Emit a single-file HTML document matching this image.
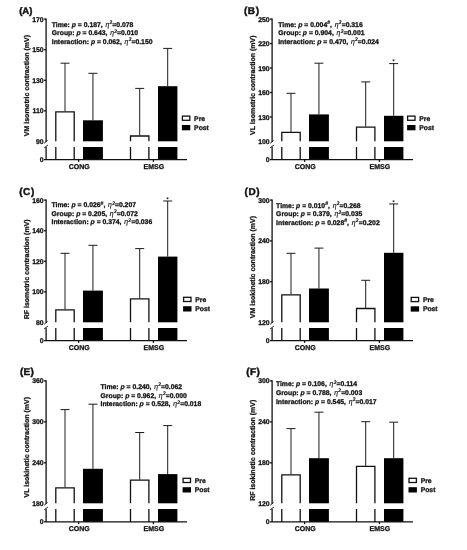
<!DOCTYPE html>
<html lang="en"><head><meta charset="utf-8"><title>Figure</title>
<style>
html,body{margin:0;padding:0;background:#fff}
body{width:467px;height:550px;overflow:hidden}
svg{display:block}
text{font-family:'Liberation Sans',sans-serif;font-weight:bold;fill:#111;stroke:#111;stroke-width:0.28;text-rendering:geometricPrecision}
.e{font-family:'Liberation Serif','DejaVu Serif',serif;font-weight:normal;font-style:italic;stroke-width:0.12}
.e2{font-family:'Liberation Serif','DejaVu Serif',serif;font-weight:bold;font-style:italic;stroke-width:0.2}
.t{font-size:6.9px}
.x{font-size:7px}
.p{font-size:9.5px;stroke-width:0.45}
.s{font-size:6.83px}
.y{font-size:7px}
.l{font-size:6.8px}
.i{font-style:italic}
.ln{stroke:#111;stroke-width:1.3;fill:none}
.th{stroke:#1c1c1c;stroke-width:1;fill:none}
</style></head><body>
<svg width="467" height="550" viewBox="0 0 467 550">
<rect width="467" height="550" fill="#fff"/>
<g transform="translate(0,0)">
<text class="p" style="font-size:9.5px;letter-spacing:0px" x="19.2" y="14.1">(A)</text>
<path class="th" d="M65 111.3 V63.2 M60.5 63.2 H69.5"/>
<path class="ln" d="M55.8 141.3 V111.8 H74.2 V141.3"/>
<path class="ln" d="M55.8 147 V159.6 M74.2 147 V159.6"/>
<path class="th" d="M92.95 120.3 V73.3 M88.45 73.3 H97.45"/>
<rect x="83" y="120.3" width="19.9" height="21" fill="#000"/>
<rect x="83" y="147" width="19.9" height="12.6" fill="#000"/>
<path class="th" d="M139.7 135.5 V88.4 M135.2 88.4 H144.2"/>
<path class="ln" d="M130.5 141.3 V136 H148.9 V141.3"/>
<path class="ln" d="M130.5 147 V159.6 M148.9 147 V159.6"/>
<path class="th" d="M167.7 86.2 V48.4 M163.2 48.4 H172.2"/>
<rect x="158" y="86.2" width="19.4" height="55.1" fill="#000"/>
<rect x="158" y="147" width="19.4" height="12.6" fill="#000"/>
<path class="ln" d="M46.1 18.5 V142.1 M46.1 147 V159.6"/>
<path class="th" d="M44.2 143.3 L47.6 140.3 M44.2 147.8 L47.9 145.1"/>
<path class="ln" d="M44 159.6 H187"/>
<path class="ln" d="M78.6 159.6 V161.9"/>
<path class="ln" d="M153.4 159.6 V161.9"/>
<path class="ln" d="M44 19.1 H46.1"/>
<text class="t" x="43.7" y="21.6" text-anchor="end">170</text>
<path class="ln" d="M44 49.7 H46.1"/>
<text class="t" x="43.7" y="52.2" text-anchor="end">150</text>
<path class="ln" d="M44 80.3 H46.1"/>
<text class="t" x="43.7" y="82.8" text-anchor="end">130</text>
<path class="ln" d="M44 110.9 H46.1"/>
<text class="t" x="43.7" y="113.4" text-anchor="end">110</text>
<text class="t" x="43.7" y="144" text-anchor="end">90</text>
<text class="t" x="43.7" y="162.1" text-anchor="end">0</text>
<text class="x" x="79.2" y="168.7" text-anchor="middle">CONG</text>
<text class="x" x="153.8" y="169.1" text-anchor="middle">EMSG</text>
<text class="y" transform="translate(28.5,85.6) rotate(-90)" text-anchor="middle">VM isometric contraction (mV)</text>
<text class="s" x="51.8" y="26.7">Time: <tspan class="i">p</tspan> = 0.187, <tspan class="e" font-size="8.3" dx="0.6">η</tspan><tspan font-size="5.4" dy="-2.5" dx="0.2" class="e2">2</tspan><tspan dy="2.5" dx="0.1">=0.078</tspan></text>
<text class="s" x="51.8" y="35.2">Group: <tspan class="i">p</tspan> = 0.643, <tspan class="e" font-size="8.3" dx="0.6">η</tspan><tspan font-size="5.4" dy="-2.5" dx="0.2" class="e2">2</tspan><tspan dy="2.5" dx="0.1">=0.010</tspan></text>
<text class="s" x="51.8" y="43.8">Interaction: <tspan class="i">p</tspan> = 0.062, <tspan class="e" font-size="8.3" dx="0.6">η</tspan><tspan font-size="5.4" dy="-2.5" dx="0.2" class="e2">2</tspan><tspan dy="2.5" dx="0.1">=0.150</tspan></text>
<rect class="ln" x="182.4" y="116.1" width="7.4" height="4.2" fill="#fff"/>
<rect x="181.9" y="125" width="8.4" height="5.3" fill="#000"/>
<text class="l" x="194.1" y="120.5">Pre</text>
<text class="l" x="194.1" y="129.8">Post</text>
</g>
<g transform="translate(226,0)">
<text class="p" style="font-size:10px;letter-spacing:0.6px" x="17.9" y="14.2">(B)</text>
<path class="th" d="M65 131.9 V93.3 M60.5 93.3 H69.5"/>
<path class="ln" d="M55.8 141.3 V132.4 H74.2 V141.3"/>
<path class="ln" d="M55.8 147 V159.6 M74.2 147 V159.6"/>
<path class="th" d="M92.95 114.4 V63.2 M88.45 63.2 H97.45"/>
<rect x="83" y="114.4" width="19.9" height="26.9" fill="#000"/>
<rect x="83" y="147" width="19.9" height="12.6" fill="#000"/>
<path class="th" d="M139.7 126.6 V81.9 M135.2 81.9 H144.2"/>
<path class="ln" d="M130.5 141.3 V127.1 H148.9 V141.3"/>
<path class="ln" d="M130.5 147 V159.6 M148.9 147 V159.6"/>
<path class="th" d="M167.7 115.8 V63.6 M163.2 63.6 H172.2"/>
<rect x="158" y="115.8" width="19.4" height="25.5" fill="#000"/>
<rect x="158" y="147" width="19.4" height="12.6" fill="#000"/>
<path class="ln" d="M46.1 18.5 V142.1 M46.1 147 V159.6"/>
<path class="th" d="M44.2 143.3 L47.6 140.3 M44.2 147.8 L47.9 145.1"/>
<path class="ln" d="M44 159.6 H187"/>
<path class="ln" d="M78.6 159.6 V161.9"/>
<path class="ln" d="M153.4 159.6 V161.9"/>
<path class="ln" d="M44 19.1 H46.1"/>
<text class="t" x="43.7" y="21.6" text-anchor="end">250</text>
<path class="ln" d="M44 43.58 H46.1"/>
<text class="t" x="43.7" y="46.08" text-anchor="end">220</text>
<path class="ln" d="M44 68.06 H46.1"/>
<text class="t" x="43.7" y="70.56" text-anchor="end">190</text>
<path class="ln" d="M44 92.54 H46.1"/>
<text class="t" x="43.7" y="95.04" text-anchor="end">160</text>
<path class="ln" d="M44 117.02 H46.1"/>
<text class="t" x="43.7" y="119.52" text-anchor="end">130</text>
<text class="t" x="43.7" y="144" text-anchor="end">100</text>
<text class="t" x="43.7" y="162.1" text-anchor="end">0</text>
<text class="x" x="79.2" y="168.7" text-anchor="middle">CONG</text>
<text class="x" x="153.8" y="169.1" text-anchor="middle">EMSG</text>
<text class="y" transform="translate(28.5,85.2) rotate(-90)" text-anchor="middle">VL isometric contraction (mV)</text>
<text class="s" x="52.2" y="26.7">Time: <tspan class="i">p</tspan> = 0.004<tspan font-size="5.2" dy="-2.4" stroke-width="0.2">#</tspan><tspan dy="2.4">, </tspan><tspan class="e" font-size="8.3" dx="0.6">η</tspan><tspan font-size="5.4" dy="-2.5" dx="0.2" class="e2">2</tspan><tspan dy="2.5" dx="0.1">=0.316</tspan></text>
<text class="s" x="52.2" y="35.3">Group: <tspan class="i">p</tspan> = 0.904, <tspan class="e" font-size="8.3" dx="0.6">η</tspan><tspan font-size="5.4" dy="-2.5" dx="0.2" class="e2">2</tspan><tspan dy="2.5" dx="0.1">=0.001</tspan></text>
<text class="s" x="52.2" y="43.9">Interaction: <tspan class="i">p</tspan> = 0.470, <tspan class="e" font-size="8.3" dx="0.6">η</tspan><tspan font-size="5.4" dy="-2.5" dx="0.2" class="e2">2</tspan><tspan dy="2.5" dx="0.1">=0.024</tspan></text>
<rect class="ln" x="181.6" y="116.1" width="7.4" height="4.2" fill="#fff"/>
<rect x="181.1" y="125" width="8.4" height="5.3" fill="#000"/>
<text class="l" x="193.3" y="120.5">Pre</text>
<text class="l" x="193.3" y="129.8">Post</text>
<text class="t" style="font-size:5.4px;stroke-width:0.1" x="167.6" y="62.5" text-anchor="middle">*</text>
</g>
<g transform="translate(0,181)">
<text class="p" style="font-size:10px;letter-spacing:0.6px" x="19.2" y="13.6">(C)</text>
<path class="th" d="M65 128.3 V72.3 M60.5 72.3 H69.5"/>
<path class="ln" d="M55.8 141.3 V128.8 H74.2 V141.3"/>
<path class="ln" d="M55.8 147 V159.6 M74.2 147 V159.6"/>
<path class="th" d="M92.95 109.6 V64.3 M88.45 64.3 H97.45"/>
<rect x="83" y="109.6" width="19.9" height="31.7" fill="#000"/>
<rect x="83" y="147" width="19.9" height="12.6" fill="#000"/>
<path class="th" d="M139.7 117.3 V67.6 M135.2 67.6 H144.2"/>
<path class="ln" d="M130.5 141.3 V117.8 H148.9 V141.3"/>
<path class="ln" d="M130.5 147 V159.6 M148.9 147 V159.6"/>
<path class="th" d="M167.7 75.6 V20 M163.2 20 H172.2"/>
<rect x="158" y="75.6" width="19.4" height="65.7" fill="#000"/>
<rect x="158" y="147" width="19.4" height="12.6" fill="#000"/>
<path class="ln" d="M46.1 18.5 V142.1 M46.1 147 V159.6"/>
<path class="th" d="M44.2 143.3 L47.6 140.3 M44.2 147.8 L47.9 145.1"/>
<path class="ln" d="M44 159.6 H187"/>
<path class="ln" d="M78.6 159.6 V161.9"/>
<path class="ln" d="M153.4 159.6 V161.9"/>
<path class="ln" d="M44 19.1 H46.1"/>
<text class="t" x="43.7" y="21.6" text-anchor="end">160</text>
<path class="ln" d="M44 49.7 H46.1"/>
<text class="t" x="43.7" y="52.2" text-anchor="end">140</text>
<path class="ln" d="M44 80.3 H46.1"/>
<text class="t" x="43.7" y="82.8" text-anchor="end">120</text>
<path class="ln" d="M44 110.9 H46.1"/>
<text class="t" x="43.7" y="113.4" text-anchor="end">100</text>
<text class="t" x="43.7" y="144" text-anchor="end">80</text>
<text class="t" x="43.7" y="162.1" text-anchor="end">0</text>
<text class="x" x="79.2" y="168.7" text-anchor="middle">CONG</text>
<text class="x" x="153.8" y="169.1" text-anchor="middle">EMSG</text>
<text class="y" transform="translate(28.5,88.3) rotate(-90)" text-anchor="middle">RF isometric contraction (mV)</text>
<text class="s" x="51.5" y="26.2">Time: <tspan class="i">p</tspan> = 0.026<tspan font-size="5.2" dy="-2.4" stroke-width="0.2">#</tspan><tspan dy="2.4">, </tspan><tspan class="e" font-size="8.3" dx="0.6">η</tspan><tspan font-size="5.4" dy="-2.5" dx="0.2" class="e2">2</tspan><tspan dy="2.5" dx="0.1">=0.207</tspan></text>
<text class="s" x="51.5" y="34.7">Group: <tspan class="i">p</tspan> = 0.205, <tspan class="e" font-size="8.3" dx="0.6">η</tspan><tspan font-size="5.4" dy="-2.5" dx="0.2" class="e2">2</tspan><tspan dy="2.5" dx="0.1">=0.072</tspan></text>
<text class="s" x="51.5" y="43.2">Interaction: <tspan class="i">p</tspan> = 0.374, <tspan class="e" font-size="8.3" dx="0.6">η</tspan><tspan font-size="5.4" dy="-2.5" dx="0.2" class="e2">2</tspan><tspan dy="2.5" dx="0.1">=0.036</tspan></text>
<rect class="ln" x="183.6" y="116.3" width="7.4" height="4.2" fill="#fff"/>
<rect x="183.1" y="125.2" width="8.4" height="5.3" fill="#000"/>
<text class="l" x="195.3" y="120.7">Pre</text>
<text class="l" x="195.3" y="130">Post</text>
<text class="t" style="font-size:5.4px;stroke-width:0.1" x="167.6" y="20.3" text-anchor="middle">*</text>
</g>
<g transform="translate(226,181)">
<text class="p" style="font-size:10px;letter-spacing:0.6px" x="18.6" y="13.8">(D)</text>
<path class="th" d="M65 113.4 V72.3 M60.5 72.3 H69.5"/>
<path class="ln" d="M55.8 141.3 V113.9 H74.2 V141.3"/>
<path class="ln" d="M55.8 147 V159.6 M74.2 147 V159.6"/>
<path class="th" d="M92.95 107.5 V67.1 M88.45 67.1 H97.45"/>
<rect x="83" y="107.5" width="19.9" height="33.8" fill="#000"/>
<rect x="83" y="147" width="19.9" height="12.6" fill="#000"/>
<path class="th" d="M139.7 127 V99.3 M135.2 99.3 H144.2"/>
<path class="ln" d="M130.5 141.3 V127.5 H148.9 V141.3"/>
<path class="ln" d="M130.5 147 V159.6 M148.9 147 V159.6"/>
<path class="th" d="M167.7 71.8 V22.95 M163.2 22.95 H172.2"/>
<rect x="158" y="71.8" width="19.4" height="69.5" fill="#000"/>
<rect x="158" y="147" width="19.4" height="12.6" fill="#000"/>
<path class="ln" d="M46.1 18.5 V142.1 M46.1 147 V159.6"/>
<path class="th" d="M44.2 143.3 L47.6 140.3 M44.2 147.8 L47.9 145.1"/>
<path class="ln" d="M44 159.6 H187"/>
<path class="ln" d="M78.6 159.6 V161.9"/>
<path class="ln" d="M153.4 159.6 V161.9"/>
<path class="ln" d="M44 19.1 H46.1"/>
<text class="t" x="43.7" y="21.6" text-anchor="end">300</text>
<path class="ln" d="M44 59.9 H46.1"/>
<text class="t" x="43.7" y="62.4" text-anchor="end">240</text>
<path class="ln" d="M44 100.7 H46.1"/>
<text class="t" x="43.7" y="103.2" text-anchor="end">180</text>
<text class="t" x="43.7" y="144" text-anchor="end">120</text>
<text class="t" x="43.7" y="162.1" text-anchor="end">0</text>
<text class="x" x="79.2" y="168.7" text-anchor="middle">CONG</text>
<text class="x" x="153.8" y="169.1" text-anchor="middle">EMSG</text>
<text class="y" transform="translate(28.5,86.1) rotate(-90)" text-anchor="middle">VM isokinetic contraction (mV)</text>
<text class="s" x="50.1" y="26.5">Time: <tspan class="i">p</tspan> = 0.010<tspan font-size="5.2" dy="-2.4" stroke-width="0.2">#</tspan><tspan dy="2.4">, </tspan><tspan class="e" font-size="8.3" dx="0.6">η</tspan><tspan font-size="5.4" dy="-2.5" dx="0.2" class="e2">2</tspan><tspan dy="2.5" dx="0.1">=0.268</tspan></text>
<text class="s" x="50.1" y="35.1">Group: <tspan class="i">p</tspan> = 0.379, <tspan class="e" font-size="8.3" dx="0.6">η</tspan><tspan font-size="5.4" dy="-2.5" dx="0.2" class="e2">2</tspan><tspan dy="2.5" dx="0.1">=0.035</tspan></text>
<text class="s" x="50.1" y="43.7">Interaction: <tspan class="i">p</tspan> = 0.028<tspan font-size="5.2" dy="-2.4" stroke-width="0.2">#</tspan><tspan dy="2.4">, </tspan><tspan class="e" font-size="8.3" dx="0.6">η</tspan><tspan font-size="5.4" dy="-2.5" dx="0.2" class="e2">2</tspan><tspan dy="2.5" dx="0.1">=0.202</tspan></text>
<rect class="ln" x="185.2" y="116.4" width="7.4" height="4.2" fill="#fff"/>
<rect x="184.7" y="125.3" width="8.4" height="5.3" fill="#000"/>
<text class="l" x="196.9" y="120.8">Pre</text>
<text class="l" x="196.9" y="130.1">Post</text>
<text class="t" style="font-size:5.4px;stroke-width:0.1" x="167.6" y="22.6" text-anchor="middle">*</text>
</g>
<g transform="translate(0,362)">
<text class="p" style="font-size:10px;letter-spacing:0.3px" x="19.9" y="13.3">(E)</text>
<path class="th" d="M65 125.3 V47.6 M60.5 47.6 H69.5"/>
<path class="ln" d="M55.8 141.3 V125.8 H74.2 V141.3"/>
<path class="ln" d="M55.8 147 V159.9 M74.2 147 V159.9"/>
<path class="th" d="M92.95 106.8 V42.2 M88.45 42.2 H97.45"/>
<rect x="83" y="106.8" width="19.9" height="34.5" fill="#000"/>
<rect x="83" y="147" width="19.9" height="12.9" fill="#000"/>
<path class="th" d="M139.7 117.7 V70.5 M135.2 70.5 H144.2"/>
<path class="ln" d="M130.5 141.3 V118.2 H148.9 V141.3"/>
<path class="ln" d="M130.5 147 V159.9 M148.9 147 V159.9"/>
<path class="th" d="M167.7 112.1 V63.6 M163.2 63.6 H172.2"/>
<rect x="158" y="112.1" width="19.4" height="29.2" fill="#000"/>
<rect x="158" y="147" width="19.4" height="12.9" fill="#000"/>
<path class="ln" d="M46.1 18.3 V142.1 M46.1 147 V159.9"/>
<path class="th" d="M44.2 143.3 L47.6 140.3 M44.2 147.8 L47.9 145.1"/>
<path class="ln" d="M44 159.9 H187"/>
<path class="ln" d="M78.6 159.9 V162.2"/>
<path class="ln" d="M153.4 159.9 V162.2"/>
<path class="ln" d="M44 18.9 H46.1"/>
<text class="t" x="43.7" y="21.4" text-anchor="end">360</text>
<path class="ln" d="M44 59.87 H46.1"/>
<text class="t" x="43.7" y="62.37" text-anchor="end">300</text>
<path class="ln" d="M44 100.83 H46.1"/>
<text class="t" x="43.7" y="103.33" text-anchor="end">240</text>
<text class="t" x="43.7" y="144.3" text-anchor="end">180</text>
<text class="t" x="43.7" y="162.4" text-anchor="end">0</text>
<text class="x" x="79.2" y="168.7" text-anchor="middle">CONG</text>
<text class="x" x="153.8" y="169.1" text-anchor="middle">EMSG</text>
<text class="y" transform="translate(28.5,85.2) rotate(-90)" text-anchor="middle">VL isokinetic contraction (mV)</text>
<text class="s" x="100.5" y="26.8">Time: <tspan class="i">p</tspan> = 0.240, <tspan class="e" font-size="8.3" dx="0.6">η</tspan><tspan font-size="5.4" dy="-2.5" dx="0.2" class="e2">2</tspan><tspan dy="2.5" dx="0.1">=0.062</tspan></text>
<text class="s" x="100.5" y="35.5">Group: <tspan class="i">p</tspan> = 0.962, <tspan class="e" font-size="8.3" dx="0.6">η</tspan><tspan font-size="5.4" dy="-2.5" dx="0.2" class="e2">2</tspan><tspan dy="2.5" dx="0.1">=0.000</tspan></text>
<text class="s" x="100.5" y="44.3">Interaction: <tspan class="i">p</tspan> = 0.528, <tspan class="e" font-size="8.3" dx="0.6">η</tspan><tspan font-size="5.4" dy="-2.5" dx="0.2" class="e2">2</tspan><tspan dy="2.5" dx="0.1">=0.018</tspan></text>
<rect class="ln" x="183.1" y="116.3" width="7.4" height="4.2" fill="#fff"/>
<rect x="182.6" y="125.2" width="8.4" height="5.3" fill="#000"/>
<text class="l" x="194.8" y="120.7">Pre</text>
<text class="l" x="194.8" y="130">Post</text>
</g>
<g transform="translate(226,362)">
<text class="p" style="font-size:10px;letter-spacing:0.4px" x="20.2" y="13.2">(F)</text>
<path class="th" d="M65 112.4 V66.6 M60.5 66.6 H69.5"/>
<path class="ln" d="M55.8 141.3 V112.9 H74.2 V141.3"/>
<path class="ln" d="M55.8 147 V159.9 M74.2 147 V159.9"/>
<path class="th" d="M92.95 96.2 V50.2 M88.45 50.2 H97.45"/>
<rect x="83" y="96.2" width="19.9" height="45.1" fill="#000"/>
<rect x="83" y="147" width="19.9" height="12.9" fill="#000"/>
<path class="th" d="M139.7 103.9 V59.7 M135.2 59.7 H144.2"/>
<path class="ln" d="M130.5 141.3 V104.4 H148.9 V141.3"/>
<path class="ln" d="M130.5 147 V159.9 M148.9 147 V159.9"/>
<path class="th" d="M167.7 96.2 V60.2 M163.2 60.2 H172.2"/>
<rect x="158" y="96.2" width="19.4" height="45.1" fill="#000"/>
<rect x="158" y="147" width="19.4" height="12.9" fill="#000"/>
<path class="ln" d="M46.1 18.3 V142.1 M46.1 147 V159.9"/>
<path class="th" d="M44.2 143.3 L47.6 140.3 M44.2 147.8 L47.9 145.1"/>
<path class="ln" d="M44 159.9 H187"/>
<path class="ln" d="M78.6 159.9 V162.2"/>
<path class="ln" d="M153.4 159.9 V162.2"/>
<path class="ln" d="M44 18.9 H46.1"/>
<text class="t" x="43.7" y="21.4" text-anchor="end">300</text>
<path class="ln" d="M44 59.87 H46.1"/>
<text class="t" x="43.7" y="62.37" text-anchor="end">240</text>
<path class="ln" d="M44 100.83 H46.1"/>
<text class="t" x="43.7" y="103.33" text-anchor="end">180</text>
<text class="t" x="43.7" y="144.3" text-anchor="end">120</text>
<text class="t" x="43.7" y="162.4" text-anchor="end">0</text>
<text class="x" x="79.2" y="168.7" text-anchor="middle">CONG</text>
<text class="x" x="153.8" y="169.1" text-anchor="middle">EMSG</text>
<text class="y" transform="translate(28.5,88.3) rotate(-90)" text-anchor="middle">RF isokinetic contraction (mV)</text>
<text class="s" x="49.9" y="24">Time: <tspan class="i">p</tspan> = 0.106, <tspan class="e" font-size="8.3" dx="0.6">η</tspan><tspan font-size="5.4" dy="-2.5" dx="0.2" class="e2">2</tspan><tspan dy="2.5" dx="0.1">=0.114</tspan></text>
<text class="s" x="49.9" y="32.9">Group: <tspan class="i">p</tspan> = 0.788, <tspan class="e" font-size="8.3" dx="0.6">η</tspan><tspan font-size="5.4" dy="-2.5" dx="0.2" class="e2">2</tspan><tspan dy="2.5" dx="0.1">=0.003</tspan></text>
<text class="s" x="49.9" y="41.8">Interaction: <tspan class="i">p</tspan> = 0.545, <tspan class="e" font-size="8.3" dx="0.6">η</tspan><tspan font-size="5.4" dy="-2.5" dx="0.2" class="e2">2</tspan><tspan dy="2.5" dx="0.1">=0.017</tspan></text>
<rect class="ln" x="183" y="116.3" width="7.4" height="4.2" fill="#fff"/>
<rect x="182.5" y="125.2" width="8.4" height="5.3" fill="#000"/>
<text class="l" x="194.7" y="120.7">Pre</text>
<text class="l" x="194.7" y="130">Post</text>
</g>
</svg>
</body></html>
